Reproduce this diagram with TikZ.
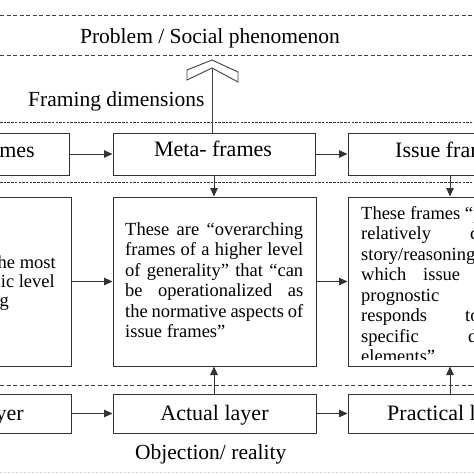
\documentclass[tikz,border=0pt]{standalone}
\usepackage{fontspec}
\setmainfont{Liberation Serif}
\usetikzlibrary{arrows.meta}
\newcommand\labf{\fontsize{21.5}{24}\selectfont}
\newcommand\rowf{\fontsize{22}{24}\selectfont}
\newcommand\bodyf{\fontsize{18.5}{20.5}\selectfont}
\begin{document}
\begin{tikzpicture}[x=1pt,y=-1pt,
  box/.style={draw=black!80,line width=1pt,inner sep=0pt},
  arr/.style={-{Triangle[length=8.5pt,width=7.5pt]},line width=0.9pt,draw=black!80},
  dline/.style={line width=0.8pt,draw=black!75,dash pattern=on 4pt off 2.5pt},
  dense/.style={line width=0.9pt,draw=black!80,dash pattern=on 2.5pt off 1.2pt},
  lab/.style={inner sep=0pt,font=\labf},
  rowlab/.style={inner sep=0pt,font=\rowf},
  body/.style={inner sep=0pt,font=\bodyf}]
\useasboundingbox (0,0) rectangle (474,474);
\clip (0,0) rectangle (474,474);
\fill[white] (0,0) rectangle (474,474);
% dashed separators
\draw[dline] (0,15) -- (474,15);
\draw[dline] (0,55) -- (474,55);
\draw[dense] (0,122) -- (474,122);
\draw[dense] (0,182) -- (474,182);
\draw[dline] (0,385) -- (474,385);
\draw[line width=0.8pt,draw=black!15,dash pattern=on 2pt off 2pt] (0,472) -- (474,472);
% top labels
\node[lab,anchor=base] (prob) at (210,43) {Problem / Social phenomenon};
\node[lab,anchor=base west] (fdim) at (28,106) {Framing dimensions};
\node[lab,anchor=base west] (obj) at (135,459) {Objection/ reality};
% top row boxes
\node[box,minimum width=200pt,minimum height=42pt] (gen) at (-31,154) {};
\node[box,minimum width=202pt,minimum height=42pt] (meta) at (214,154) {};
\node[box,minimum width=204pt,minimum height=42pt] (issue) at (450,154) {};
\node[rowlab,anchor=base east] (genl) at (35,157) {frames};
\node[rowlab,anchor=base] (metal) at (213,156) {Meta- frames};
\node[rowlab,anchor=base west] (issuel) at (395,157) {Issue frames};
% text row boxes
\node[box,minimum width=200pt,minimum height=169pt] (gent) at (-29,281.5) {};
\node[box,minimum width=203pt,minimum height=169pt] (metat) at (214.5,281.5) {};
\node[box,minimum width=204pt,minimum height=169pt] (issuet) at (450,281.5) {};
\node[body,anchor=base east] (g1) at (56,268) {the most};
\node[body,anchor=base east] (g2) at (55,287) {basic level};
\node[body,anchor=base east] (g3) at (9,306) {framing};
\node[body,anchor=base west,text width=178pt,align=justify] (mtext) at (125,235)
 {These are “overarching\linebreak frames of a higher level\linebreak of generality” that “can\linebreak be operationalized as\linebreak the normative aspects of\linebreak issue frames”};
\begin{scope}
\clip (348,190) rectangle (552,359);
\node[body,anchor=base west] (i1) at (361,219) {These frames “provide};
\node[body,anchor=base west] (i2) at (361,239.5) {relatively};
\node[body,anchor=base west] (i2b) at (470,239.5) {coherent};
\node[body,anchor=base west] (i3) at (361,260) {story/reasoning};
\node[body,anchor=base west] (i4) at (361,280.5) {which};
\node[body,anchor=base west] (i4b) at (423,280.5) {issue};
\node[body,anchor=base west] (i5) at (361,301) {prognostic};
\node[body,anchor=base west] (i6) at (361,321.5) {responds};
\node[body,anchor=base west] (i6b) at (465,321.5) {to};
\node[body,anchor=base west] (i7) at (361,342) {specific};
\node[body,anchor=base west] (i7b) at (468,342) {diagnostic};
\node[body,anchor=base west] (i8) at (361,362.5) {elements”};
\end{scope}
% bottom row boxes
\node[box,minimum width=200pt,minimum height=39pt] (virt) at (-29,413.5) {};
\node[box,minimum width=203pt,minimum height=39pt] (act) at (214.5,413.5) {};
\node[box,minimum width=204pt,minimum height=39pt] (prac) at (450,413.5) {};
\node[rowlab,anchor=base east] (virtl) at (24,420) {layer};
\node[rowlab,anchor=base] (actl) at (214.5,420) {Actual layer};
\node[rowlab,anchor=base west] (pracl) at (387,420) {Practical layer};
% horizontal arrows
\draw[arr] (gen.east) -- (meta.west);
\draw[arr] (meta.east) -- (issue.west);
\draw[arr] (gent.east) -- (metat.west);
\draw[arr] (metat.east) -- (issuet.west);
\draw[arr] (virt.east) -- (act.west);
\draw[arr] (act.east) -- (prac.west);
% vertical arrows
\draw[arr] (meta.south) -- (meta.south |- metat.north);
\draw[arr] (issue.south) -- (issue.south |- issuet.north);
\draw[arr] (act.north -| meta.south) -- (metat.south -| meta.south);
\draw[arr] (prac.north -| issue.south) -- (issuet.south -| issue.south);
% chevron and line to problem
\coordinate (chin) at (212,68);
\draw[line width=0.9pt,draw=black!75,fill=white,line join=miter]
  (187,70) -- (212,60) -- (238,72) -- (238,82) -- (chin) -- (187,80) -- cycle;
\draw[line width=0.9pt,draw=black!75] (chin) -- (meta.north -| chin);
\end{tikzpicture}
\end{document}
